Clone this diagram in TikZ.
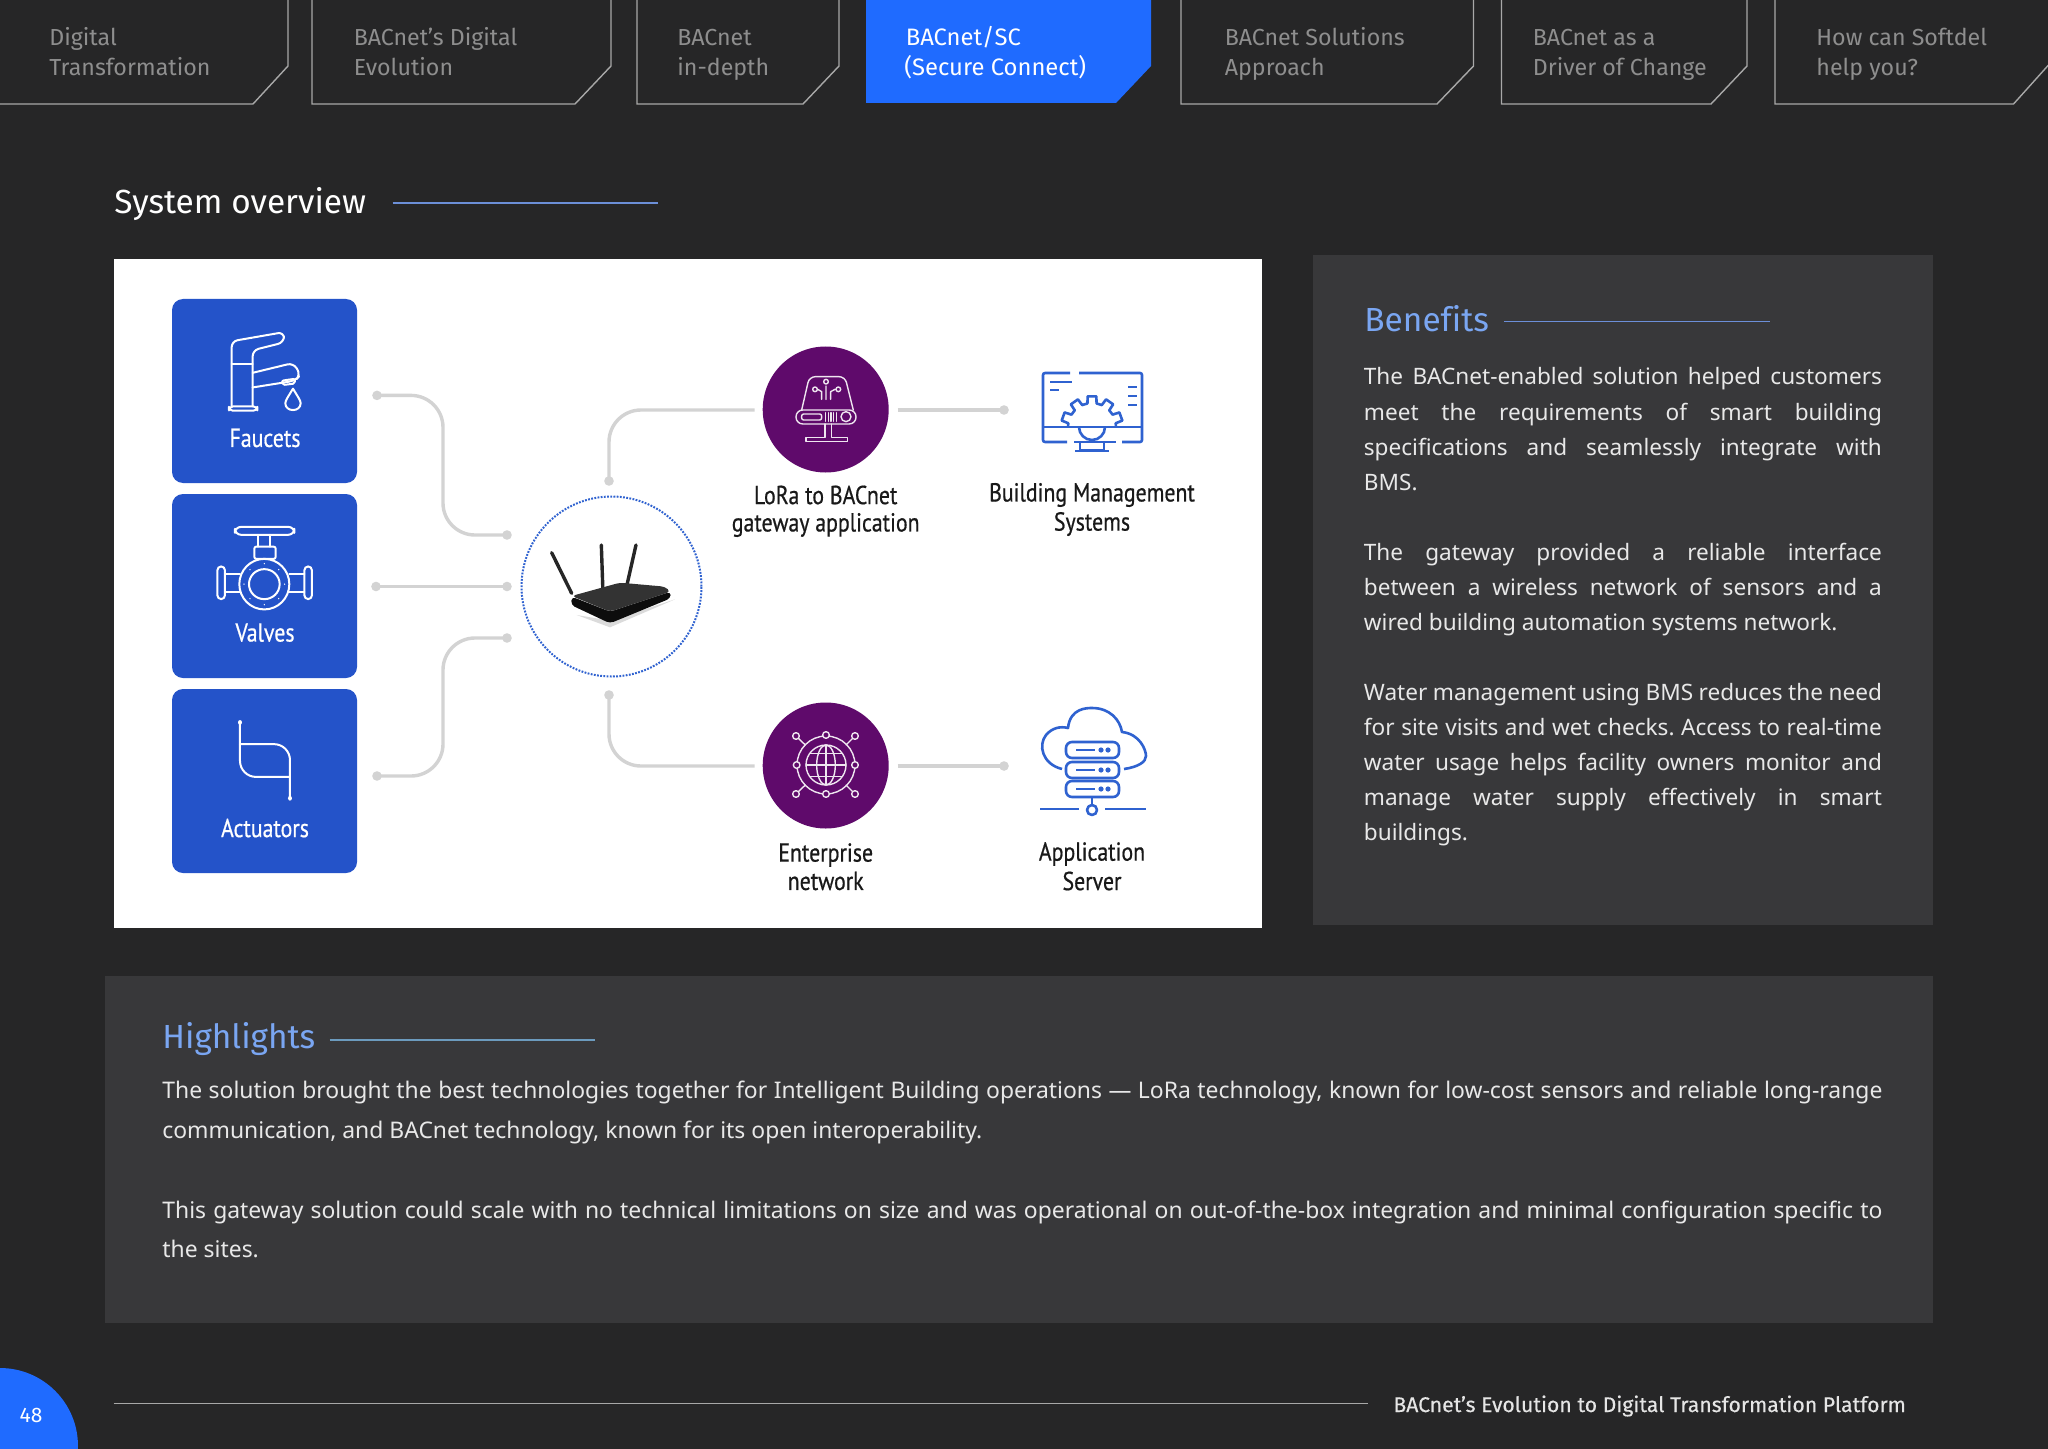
\documentclass[tikz,border=0pt]{standalone}
\usepackage{fontspec}
\setmainfont{Noto Sans}
\newfontfamily\headfont[Ligatures=NoCommon]{Fira Sans}
\newfontfamily\dinfont[FakeStretch=0.84,FakeBold=0.6]{PT Sans}
\definecolor{pagebg}{HTML}{262627}
\definecolor{panelbg}{HTML}{38383A}
\definecolor{tabblue}{HTML}{1F6BFF}
\definecolor{boxblue}{HTML}{2453C9}
\definecolor{icoblue}{HTML}{2F62D0}
\definecolor{plum}{HTML}{5F0A6B}
\definecolor{headblue}{HTML}{7AA6F2}
\definecolor{rulegray}{HTML}{A8A8A8}
\definecolor{tabtext}{HTML}{8E8E8E}
\definecolor{wiregray}{HTML}{D3D3D3}
\definecolor{bodytext}{HTML}{E8E8E8}
\definecolor{ruleblue}{HTML}{6C8FD8}
\definecolor{ruleteal}{HTML}{6C9BBE}
\newcommand{\jb}[1]{\hbox to 259pt{#1}}
\newcommand{\jh}[1]{\hbox to 860pt{#1}}
\tikzset{
  tabshape/.style={draw=rulegray,line width=0.7pt,line join=miter},
  tablabel/.style={anchor=base west,inner sep=0pt,text=tabtext,font=\headfont\fontsize{11.6}{14}\selectfont},
  tabactive/.style={tablabel,text=white,font=\headfont\fontsize{11.9}{14}\selectfont},
  section/.style={anchor=base west,inner sep=0pt,text=headblue,font=\headfont\fontsize{16.7}{19}\selectfont},
  body/.style={anchor=base west,inner sep=0pt,text=bodytext,font=\frenchspacing\fontsize{11.3}{14}\selectfont},
  bodywide/.style={anchor=base west,inner sep=0pt,text=bodytext,font=\frenchspacing\fontsize{11.45}{14}\selectfont},
  headrule/.style={draw=#1,line width=0.7pt},
  srcbox/.style={fill=boxblue,rounded corners=5.5pt,minimum width=92.5pt,minimum height=92pt,inner sep=0pt},
  plumdisc/.style={circle,fill=plum,minimum size=63pt,inner sep=0pt},
  hubdisc/.style={circle,draw=icoblue,line width=1pt,dash pattern=on 0.9pt off 0.7pt,minimum size=90pt,inner sep=0pt,fill=white},
  wire/.style={draw=wiregray,line width=1.7pt,rounded corners=16pt},
  wiredot/.style={fill=wiregray},
  dia/.style={inner sep=0pt,text=black!90,font=\dinfont\fontsize{13}{14}\selectfont},
  boxlabel/.style={dia,text=white},
  iconw/.style={draw=white,line width=1pt,line join=round,line cap=round},
  iconp/.style={draw=white!90!plum,line width=0.7pt,line join=round,line cap=round},
  iconb/.style={draw=icoblue,line width=1.3pt,line join=round},
}
\begin{document}
\begin{tikzpicture}[x=0.5pt,y=-0.5pt]
\useasboundingbox (0,0) rectangle (2048,1449);
\fill[pagebg] (0,0) rectangle (2048,1449);
% tabs
\draw[tabshape] (-3,-3) -- (288,-3) -- (288,66) -- (253,104) -- (-3,104);
\draw[tabshape] (312,-3) -- (611,-3) -- (611,66) -- (575,104) -- (312,104) -- cycle;
\draw[tabshape] (637,-3) -- (839,-3) -- (839,66) -- (803,104) -- (637,104) -- cycle;
\fill[tabblue] (866,0) -- (1151,0) -- (1151,66) -- (1116,103) -- (866,103) -- cycle;
\draw[tabshape] (1181,-3) -- (1473.5,-3) -- (1473.5,66) -- (1437,104) -- (1181,104) -- cycle;
\draw[tabshape] (1501.5,-3) -- (1747,-3) -- (1747,66) -- (1711,104) -- (1501.5,104) -- cycle;
\draw[tabshape] (1775,-3) -- (2053,-3) -- (2053,60) -- (2013.5,104) -- (1775,104) -- cycle;
\node[tablabel] (t1a) at (49,46) {Digital};
\node[tablabel] (t1b) at (49,76) {Transformation};
\node[tablabel] (t2a) at (353.5,46) {BACnet’s Digital};
\node[tablabel] (t2b) at (353.5,76) {Evolution};
\node[tablabel] (t3a) at (677,46) {BACnet};
\node[tablabel] (t3b) at (677,76) {in-depth};
\node[tabactive] (t4a) at (905.5,46) {BACnet/SC};
\node[tabactive] (t4b) at (904,76) {(Secure Connect)};
\node[tablabel] (t5a) at (1224.5,46) {BACnet Solutions};
\node[tablabel] (t5b) at (1224.5,76) {Approach};
\node[tablabel] (t6a) at (1532.5,46) {BACnet as a};
\node[tablabel] (t6b) at (1532.5,76) {Driver of Change};
\node[tablabel] (t7a) at (1816,46) {How can Softdel};
\node[tablabel] (t7b) at (1816,76) {help you?};
% section title
\node[section,text=white] (sys) at (114,214) {System overview};
\draw[headrule=ruleblue] (392.5,203) -- (658,203);
% panels
\fill[white] (113.6,258.6) rectangle (1262,928);
\fill[panelbg] (1312.6,255) rectangle (1933,925);
\fill[panelbg] (104.5,975.6) rectangle (1933,1323);
% benefits
\node[section] (ben) at (1364,331) {Benefits};
\draw[headrule=ruleblue] (1504,321.7) -- (1770,321.7);
\node[body] (b1) at (1363.5,385) {\jb{The BACnet-enabled solution helped customers}};
\node[body] (b2) at (1363.5,420) {\jb{meet the requirements of smart building}};
\node[body] (b3) at (1363.5,455) {\jb{specifications and seamlessly integrate with}};
\node[body] (b4) at (1363.5,490) {BMS.};
\node[body] (b5) at (1363.5,560) {\jb{The gateway provided a reliable interface}};
\node[body] (b6) at (1363.5,595) {\jb{between a wireless network of sensors and a}};
\node[body] (b7) at (1363.5,630) {wired building automation systems network.};
\node[body] (b8) at (1363.5,700) {\jb{Water management using BMS reduces the need}};
\node[body] (b9) at (1363.5,735) {\jb{for site visits and wet checks. Access to real-time}};
\node[body] (b10) at (1363.5,770) {\jb{water usage helps facility owners monitor and}};
\node[body] (b11) at (1363.5,805) {\jb{manage water supply effectively in smart}};
\node[body] (b12) at (1363.5,840) {buildings.};
% highlights
\node[section] (hi) at (162,1048) {Highlights};
\draw[headrule=ruleteal] (329.6,1040) -- (595,1040);
\node[bodywide] (h1) at (162,1098) {\jh{The solution brought the best technologies together for Intelligent Building operations — LoRa technology, known for low-cost sensors and reliable long-range}};
\node[bodywide] (h2) at (162,1138) {communication, and BACnet technology, known for its open interoperability.};
\node[bodywide] (h3) at (162,1218) {\jh{This gateway solution could scale with no technical limitations on size and was operational on out-of-the-box integration and minimal configuration specific to}};
\node[bodywide] (h4) at (162,1257) {the sites.};
% footer
\fill[tabblue] (0,1446) circle[radius=39pt];
\node[inner sep=0pt,text=white,font=\headfont\fontsize{10.5}{12}\selectfont] (pg) at (31,1415) {48};
\draw[draw=rulegray,line width=0.7pt] (113.6,1403.7) -- (1368,1403.7);
\node[anchor=base west,inner sep=0pt,text=white!90!black,font=\headfont\fontsize{10.6}{12}\selectfont\addfontfeature{FakeBold=0.3}] (foot) at (1393,1412) {BACnet’s Evolution to Digital Transformation Platform};
% diagram boxes
\node[srcbox] (fauc) at (264.5,391) {};
\node[srcbox] (valv) at (264.5,586) {};
\node[srcbox] (actu) at (264.5,781) {};
\node[boxlabel] (lf) at (265,438) {Faucets};
\node[boxlabel] (lv) at (265,632.6) {Valves};
\node[boxlabel] (la) at (265,828) {Actuators};
\node[hubdisc] (hub) at (611.5,586.5) {};
\node[plumdisc] (lora) at (825.7,409.5) {};
\node[plumdisc] (ent) at (825.7,765.5) {};
\node[dia] (l1) at (825.7,495) {LoRa to BACnet};
\node[dia] (l2) at (825.7,525) {gateway application};
\node[dia] (l3) at (1092,495) {Building Management};
\node[dia] (l4) at (1092,524) {Systems};
\node[dia] (l5) at (825.7,855) {Enterprise};
\node[dia] (l6) at (825.7,881) {network};
\node[dia] (l7) at (1092,854) {Application};
\node[dia] (l8) at (1092,881) {Server};
% connectors
\coordinate (w1a) at (377,395.4); \coordinate (w1m) at (443,465); \coordinate (w1b) at (507,535);
\coordinate (w2a) at (376,586.5); \coordinate (w2b) at (507,586.5);
\coordinate (w3a) at (377,776); \coordinate (w3m) at (443,707); \coordinate (w3b) at (507,638);
\coordinate (w4a) at (609,481); \coordinate (w4b) at (754.5,410);
\coordinate (w5a) at (897.5,410); \coordinate (w5b) at (1004,410);
\coordinate (w6a) at (609,695); \coordinate (w6b) at (754.5,766);
\coordinate (w7a) at (897.5,766); \coordinate (w7b) at (1004,766);
\draw[wire] (w1a) -| (w1m) |- (w1b);
\draw[wire] (w2a) -- (w2b);
\draw[wire] (w3a) -| (w3m) |- (w3b);
\draw[wire] (w4a) |- (w4b);
\draw[wire] (w5a) -- (w5b);
\draw[wire] (w6a) |- (w6b);
\draw[wire] (w7a) -- (w7b);
\foreach \p in {w1a,w1b,w2a,w2b,w3a,w3b,w4a,w5b,w6a,w7b} \fill[wiredot] (\p) circle[radius=2.4pt];
% faucet icon
\begin{scope}[shift={(160,280)},xscale=0.3333,yscale=0.395]
\draw[iconw,rounded corners=2pt] (207,320) rectangle (292,331);
\draw[iconw,rounded corners=3pt] (215,320) -- (215,155) -- (372,132) -- (372,158) -- (278,178) -- (278,320);
\draw[iconw] (215,212) -- (278,212);
\draw[iconw,rounded corners=3pt] (278,235) -- (400,210) -- (422,240) -- (405,255) -- (278,272);
\draw[iconw,rounded corners=1pt] (365,255) -- (405,250) -- (405,262) -- (368,266) -- cycle;
\draw[iconw] (399,275) .. controls (385,295) and (376,305) .. (376,312) .. controls (376,335) and (422,335) .. (422,312) .. controls (422,305) and (413,295) .. (399,275) -- cycle;
% valve icon
\draw[iconw,rounded corners=3pt] (225,625) rectangle (403,645);
\draw[iconw] (295,645) -- (295,675) (330,645) -- (330,675);
\draw[iconw,rounded corners=1pt] (283,675) rectangle (347,706);
\draw[iconw] (313,770) ellipse[x radius=75,y radius=64];
\draw[iconw] (313,770) ellipse[x radius=46,y radius=38];
\foreach \a in {0,45,...,315} \fill[white] (313,770) ++(\a:61 and 52) circle[radius=1pt];
\draw[iconw,rounded corners=2pt] (172,725) rectangle (195,808);
\draw[iconw,rounded corners=2pt] (433,725) rectangle (456,808);
\draw[iconw] (195,745) -- (240,745) (195,790) -- (240,790) (388,745) -- (433,745) (388,790) -- (433,790);
% actuator icon
\draw[iconw,rounded corners=8pt] (240,1120) -- (240,1258) -- (390,1258);
\draw[iconw,rounded corners=8pt] (240,1175) -- (390,1175) -- (390,1312);
\fill[white] (240,1120) circle[radius=3pt];
\fill[white] (390,1312) circle[radius=3pt];
\end{scope}
% router
\begin{scope}[shift={(510,490)},scale=0.3333]
\fill[black!14] (200,375) -- (300,412) -- (495,328) -- (300,392) -- cycle;
\draw[black!85,line width=1.7pt,line cap=round] (125,188) -- (185,310);
\draw[black!85,line width=1.7pt,line cap=round] (274,165) -- (279,310);
\draw[black!85,line width=1.7pt,line cap=round] (378,165) -- (352,280);
\fill[black!95,rounded corners=2pt] (185,320) -- (300,365) -- (482,305) -- (482,325) -- (300,400) -- (183,345) -- cycle;
\fill[black!80,rounded corners=2pt] (185,318) -- (330,278) -- (465,290) -- (482,305) -- (300,365) -- cycle;
\end{scope}
% gateway icon
\begin{scope}[shift={(770,350)},scale=0.3333]
\draw[iconp,rounded corners=3pt] (95,180) -- (118,80) -- (225,80) -- (250,180);
\draw[iconp,rounded corners=3.4pt] (78,180) rectangle (258,222);
\draw[iconp,rounded corners=1pt] (95,192) rectangle (155,210);
\foreach \x in {167,175,183,191,199} \draw[iconp] (\x,188) -- (\x,214);
\draw[iconp] (228,200) circle[radius=15];
\draw[iconp] (165,222) -- (165,262) -- (108,262) -- (108,275) -- (232,275) -- (232,262) -- (185,262) -- (185,222);
\draw[iconp] (168,108) -- (168,148) (168,95) circle[radius=7];
\draw[iconp] (155,148) -- (155,125) -- (143,118) (135,118) circle[radius=7];
\draw[iconp] (182,148) -- (182,125) -- (195,118) (205,118) circle[radius=7];
\end{scope}
% network icon
\begin{scope}[shift={(770,710)},scale=0.3333]
\draw[iconp] (168,165) circle[radius=60];
\draw[iconp] (168,165) circle[radius=87];
\draw[iconp] (168,165) ellipse[x radius=28,y radius=60];
\draw[iconp] (108,165) -- (228,165) (168,105) -- (168,225);
\draw[iconp] (120,130) -- (216,130) (120,200) -- (216,200);
\foreach \x/\y in {78/78,168/75,255/78,80/165,255/165,78/252,168/252,255/252} \draw[iconp,fill=plum] (\x,\y) circle[radius=10];
\draw[iconp] (86,86) -- (106,105) (247,86) -- (228,105) (86,244) -- (106,225) (247,244) -- (228,225);
\end{scope}
% monitor icon
\begin{scope}[shift={(1092,412)}]
\draw[iconb,rounded corners=1pt] (-22,-39) -- (-49,-39) -- (-49,30) -- (-25,30);
\draw[iconb,rounded corners=1pt] (-13,-39) -- (50,-39) -- (50,30) -- (30,30);
\draw[iconb] (-18,30) -- (24,30);
\draw[iconb] (-49,15) -- (50,15);
\draw[iconb] (-12,31) -- (-12,38) -- (12,38) -- (12,31) (-17,39) -- (17,39);
\draw[iconb] (-42,-30) -- (-20,-30) (-42,-22) -- (-33,-22);
\draw[iconb] (36,-25) -- (45,-25) (36,-16) -- (45,-16) (36,-7) -- (45,-7);
\begin{scope}[shift={(0,15)}]
\draw[iconb] (-180:24) -- (-171:24) -- (-168:31) -- (-152:31) -- (-149:24) -- (-136:24) -- (-133:31) -- (-117:31) -- (-114:24) -- (-101:24) -- (-98:31) -- (-82:31) -- (-79:24) -- (-66:24) -- (-63:31) -- (-47:31) -- (-44:24) -- (-31:24) -- (-28:31) -- (-12:31) -- (-9:24) -- (0:24);
\draw[iconb] (-13,0) arc[start angle=180,end angle=0,radius=13];
\end{scope}
\end{scope}
% cloud icon
\begin{scope}[shift={(1092,770)}]
\draw[iconb] (-30,-1) .. controls (-50,-6) and (-54,-25) .. (-46,-35) .. controls (-40,-42) and (-32,-44) .. (-24,-42) .. controls (-22,-62) and (-5,-62) .. (0,-62) .. controls (18,-62) and (28,-50) .. (30,-38) .. controls (48,-36) and (54,-20) .. (54,-14) .. controls (54,-8) and (46,-3) .. (32,-1);
\foreach \y in {-20,0,19} {
 \draw[iconb,rounded corners=3pt] (-26,\y-8) rectangle (27,\y+8);
 \draw[iconb] (-16,\y) -- (3,\y);
 \fill[icoblue] (9,\y) circle[radius=1.3pt];
 \fill[icoblue] (16,\y) circle[radius=1.3pt];
}
\draw[iconb] (0,27) -- (0,35);
\draw[iconb] (0,40) circle[radius=5];
\draw[iconb] (-52,39) -- (-13,39) (13,39) -- (54,39);
\end{scope}
\end{tikzpicture}
\end{document}
